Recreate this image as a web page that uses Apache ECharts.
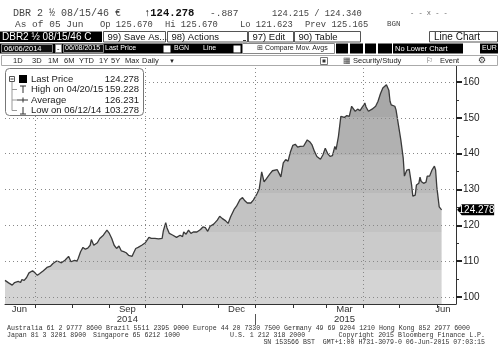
<!DOCTYPE html>
<html><head><meta charset="utf-8">
<script src="https://cdn.jsdelivr.net/npm/echarts@6/dist/echarts.min.js"></script>
<style>html,body{margin:0;padding:0;background:#fff}#c{width:500px;height:358px}</style>
</head><body><div id="c"></div>
<script>
// ---------- data ----------
const axisStart = '2014-06-06';
const axisEnd = '2015-06-17';
const priceDates = [
 '2014-06-06','2014-06-09','2014-06-12','2014-06-14','2014-06-15','2014-06-17','2014-06-19','2014-06-20','2014-06-22','2014-06-24','2014-06-26','2014-06-29',
 '2014-07-01','2014-07-03','2014-07-05','2014-07-08','2014-07-11','2014-07-14','2014-07-16','2014-07-19','2014-07-21','2014-07-23','2014-07-26','2014-07-29','2014-07-31',
 '2014-08-03','2014-08-05','2014-08-06','2014-08-08','2014-08-10','2014-08-12','2014-08-14','2014-08-16','2014-08-17','2014-08-19','2014-08-22','2014-08-24','2014-08-27','2014-08-30',
 '2014-09-01','2014-09-03','2014-09-05','2014-09-07','2014-09-09','2014-09-11','2014-09-13','2014-09-15','2014-09-17','2014-09-20','2014-09-21','2014-09-23','2014-09-25','2014-09-28',
 '2014-10-01','2014-10-04','2014-10-06','2014-10-09','2014-10-12','2014-10-15','2014-10-16','2014-10-18','2014-10-19','2014-10-21','2014-10-24','2014-10-27','2014-10-30',
 '2014-11-01','2014-11-02','2014-11-04','2014-11-06','2014-11-08','2014-11-10','2014-11-13','2014-11-16','2014-11-18','2014-11-20','2014-11-22','2014-11-24','2014-11-27','2014-11-30',
 '2014-12-02','2014-12-04','2014-12-07','2014-12-09','2014-12-11','2014-12-14','2014-12-16','2014-12-19','2014-12-21','2014-12-23','2014-12-25','2014-12-28','2014-12-30',
 '2015-01-01','2015-01-02','2015-01-04','2015-01-06','2015-01-08','2015-01-10','2015-01-13','2015-01-15','2015-01-19','2015-01-22','2015-01-24','2015-01-26','2015-01-28','2015-01-30',
 '2015-02-01','2015-02-03','2015-02-05','2015-02-07','2015-02-10','2015-02-13','2015-02-15','2015-02-17','2015-02-19','2015-02-21','2015-02-24','2015-02-26','2015-02-28',
 '2015-03-02','2015-03-04','2015-03-06','2015-03-08','2015-03-09','2015-03-11','2015-03-13','2015-03-14','2015-03-16','2015-03-18','2015-03-20','2015-03-22','2015-03-23','2015-03-25','2015-03-27','2015-03-29','2015-03-31',
 '2015-04-02','2015-04-03','2015-04-05','2015-04-08','2015-04-11','2015-04-13','2015-04-15','2015-04-17','2015-04-20','2015-04-22','2015-04-23','2015-04-24','2015-04-27','2015-04-28','2015-04-30',
 '2015-05-02','2015-05-04','2015-05-05','2015-05-07','2015-05-09','2015-05-11','2015-05-12','2015-05-14','2015-05-15','2015-05-17','2015-05-18','2015-05-19','2015-05-21','2015-05-23','2015-05-24','2015-05-26','2015-05-28','2015-05-30','2015-05-31',
 '2015-06-01','2015-06-03','2015-06-04','2015-06-05'
];
const prices = [
 104.6,103.9,103.28,104.0,103.7,104.3,104.0,104.8,104.6,105.4,106.7,107.3,
 106.7,106.0,106.5,107.3,108.2,108.6,109.3,110.0,109.8,109.5,110.2,111.3,109.8,
 110.2,110.0,110.7,112.6,113.8,113.3,113.6,114.4,116.0,114.4,115.1,116.3,117.2,118.6,
 117.7,116.3,114.4,113.5,114.2,112.8,112.6,112.3,111.6,111.3,112.1,113.5,113.8,114.4,
 115.1,116.6,116.3,116.3,116.2,116.3,118.4,120.7,119.3,117.7,117.2,116.6,117.2,
 116.8,118.1,117.5,118.6,117.7,118.1,118.1,118.8,119.5,119.3,118.3,119.7,120.3,121.4,
 122.5,121.9,121.2,120.5,122.3,124.4,125.3,127.2,127.7,126.8,126.2,126.2,127.0,
 128.1,128.7,130.2,134.9,132.1,133.0,134.4,135.2,135.5,133.5,137.4,138.3,137.9,140.5,
 142.3,142.6,141.8,142.0,142.1,143.8,143.3,142.4,140.6,139.2,138.4,139.6,141.5,
 140.0,139.2,139.4,142.0,141.1,144.8,150.4,150.8,150.1,150.6,150.4,153.2,153.4,151.8,152.4,152.0,153.0,
 154.1,153.0,151.8,152.4,153.2,154.6,156.7,158.3,159.228,157.7,154.6,153.6,153.2,152.2,148.0,
 143.8,138.7,133.7,135.4,135.6,131.2,128.1,128.4,131.2,131.7,133.4,132.2,131.7,132.0,133.7,133.7,135.4,136.5,135.4,
 130.7,125.1,124.9,124.278
];
const lastPrice = 124.278;
const monthLabels = {'2014-06-18':'Jun','2014-09-16':'Sep\n2014','2014-12-16':'Dec','2015-03-16':'Mar\n2015','2015-06-06':'Jun'};
const yMin = 100, yMax = 160, yStep = 10;
const fillBands = [107.5, 118.2, 128.9, 139.6, 150.3];
const fillColors = ['#d4d4d4','#cbcbcb','#c3c3c3','#bababa','#b1b1b1','#a8a8a8'];
const legendRows = [
  ['Last Price','124.278'],
  ['High on 04/20/15','159.228'],
  ['Average','126.231'],
  ['Low on 06/12/14','103.278']
];

// ---------- build ----------
function dayList(a, b) {
  const out = []; let t = Date.parse(a + 'T00:00:00Z'); const e = Date.parse(b + 'T00:00:00Z');
  while (t <= e) { out.push(new Date(t).toISOString().slice(0, 10)); t += 86400000; }
  return out;
}
const days = dayList(axisStart, axisEnd);
const seriesData = priceDates.map((d, i) => [d, prices[i]]);
const isMonthStart = (i, v) => v.slice(8) === '01';
const isQuarterStart = (i, v) => v.slice(8) === '01' && ['01','04','07','10'].includes(v.slice(5, 7));
const isYearStart = (i, v) => v.slice(5) === '01-01';

const pieces = [];
for (let i = 0; i <= fillBands.length; i++) {
  const p = { color: fillColors[i] };
  if (i > 0) p.gte = fillBands[i - 1];
  if (i < fillBands.length) p.lt = fillBands[i];
  pieces.push(p);
}

const MONO = '"Liberation Mono", "DejaVu Sans Mono", monospace';
const SANS = '"Liberation Sans", Arial, sans-serif';
const g = [];
function T(x, y, text, opt) {
  g.push({ type: 'text', x: x, y: y, silent: true, z: 100,
    style: Object.assign({ text: text, fill: '#333', font: '9.5px ' + MONO, verticalAlign: 'middle', align: 'left' }, opt || {}) });
}
function R(x, y, w, h, fill, stroke, r) {
  g.push({ type: 'rect', silent: true, z: 99, shape: { x: x, y: y, width: w, height: h, r: r || 0 },
    style: { fill: fill || 'none', stroke: stroke || 'none', lineWidth: 1 } });
}
function L(x1, y1, x2, y2, c, w) {
  g.push({ type: 'line', silent: true, z: 100, shape: { x1: x1, y1: y1, x2: x2, y2: y2 }, style: { stroke: c || '#333', lineWidth: w || 1 } });
}

// row 1-2 quote header
T(13, 13.5, 'DBR 2 \u00bd 08/15/46 \u20ac', { fill: '#444', font: '10px ' + MONO });
T(144, 13.5, '\u2191124.278', { font: 'bold 10.5px ' + MONO, fill: '#111' });
T(210, 13.5, '-.887', { fill: '#444' });
T(272, 13.5, '124.215 / 124.340', { fill: '#444', font: '8.8px ' + MONO });
T(410, 13.5, '- - x - -', { fill: '#666', font: '7px ' + MONO });
T(15, 24.5, 'As of 05 Jun', { fill: '#444' });
T(100, 24.5, 'Op 125.670', { fill: '#444', font: '8.8px ' + MONO });
T(165, 24.5, 'Hi 125.670', { fill: '#444', font: '8.8px ' + MONO });
T(240, 24.5, 'Lo 121.623', { fill: '#444', font: '8.8px ' + MONO });
T(305, 24.5, 'Prev 125.165', { fill: '#444', font: '8.8px ' + MONO });
T(387, 24.5, 'BGN', { fill: '#444', font: '7.5px ' + MONO });

// row 3 toolbar
R(0, 31.5, 102, 10.5, '#000');
T(2, 37, 'DBR2 \u00bd 08/15/46 C', { fill: '#fff', font: '10px ' + SANS });
[[103.5, 62, '99) Save As...'], [167.5, 80, '98) Actions'], [248.5, 45, '97) Edit'], [294.5, 66, '90) Table']].forEach(b => {
  R(b[0], 31.5, b[1], 10.5, '#fff', '#555');
  T(b[0] + 4, 37, b[2], { fill: '#111', font: '9.5px ' + SANS });
});
L(243, 40.5, 246, 40.5, '#333');
R(429.5, 31.5, 68, 10.5, '#fff', '#555');
T(434, 37, 'Line Chart', { fill: '#111', font: '10px ' + SANS });

// row 4 settings bar
R(0, 43.5, 242, 10, '#000');
R(1.5, 44.5, 51, 8, '#111', '#888');
T(4, 48.5, '06/06/2014', { fill: '#fff', font: '7.5px ' + SANS });
R(55.5, 44.5, 6, 8, '#fff', '#888');
T(57, 48.5, '-', { fill: '#000', font: '7.5px ' + SANS });
R(63.5, 44.5, 40, 8, '#111', '#888');
T(65, 48.5, '06/08/2015', { fill: '#fff', font: '7px ' + SANS });
T(105, 48.5, 'Last Price', { fill: '#fff', font: '7px ' + SANS });
R(163.5, 45.5, 7, 7, '#fff');
T(174, 48.5, 'BGN', { fill: '#fff', font: '7px ' + SANS });
T(203, 48.5, 'Line', { fill: '#fff', font: '7px ' + SANS });
R(233.5, 45.5, 7, 7, '#fff');
R(242.5, 43.5, 92, 10, '#fff', '#888');
T(257, 48.5, '\u229e Compare Mov. Avgs', { fill: '#222', font: '7px ' + SANS });
R(336, 43.5, 12, 10, '#000'); R(350, 43.5, 13, 10, '#000'); R(365, 43.5, 11, 10, '#000'); R(378, 43.5, 14, 10, '#000');
R(393, 43.5, 70, 10, '#000');
T(395, 48.5, 'No Lower Chart', { fill: '#fff', font: '7.5px ' + SANS });
R(480, 43.5, 18, 10, '#000');
T(482, 48.5, 'EUR', { fill: '#fff', font: '7px ' + SANS });

// row 5 periods
R(1.5, 55.5, 496, 10, '#fff', '#aaa');
[[13, '1D'], [32, '3D'], [48, '1M'], [64, '6M'], [79, 'YTD'], [99, '1Y'], [111, '5Y'], [125, 'Max'], [142, 'Daily']].forEach(p =>
  T(p[0], 61, p[1], { fill: '#222', font: '7.5px ' + SANS }));
T(169, 61, '\u25bc', { fill: '#222', font: '6px ' + SANS });
R(320.5, 57.5, 7, 7, '#fff', '#777');
R(322.5, 59.5, 3, 3, '#333');
T(343, 61, '\u25a6', { fill: '#444', font: '8px ' + SANS });
T(353, 61, 'Security/Study', { fill: '#222', font: '7.5px ' + SANS });
T(426, 61, '\u2690', { fill: '#444', font: '8px "DejaVu Sans"' });
T(440, 61, 'Event', { fill: '#222', font: '7.5px ' + SANS });
T(478, 61, '\u2699', { fill: '#333', font: '9px "DejaVu Sans"' });

// legend box
R(5.5, 68.5, 138, 47, '#fff', '#777', 4);
R(9.5, 76.5, 5, 5, '#fff', '#555');
L(10.5, 79, 13.5, 79, '#333');
R(19, 75, 8, 8, '#000');
L(12, 82, 12, 110.5, '#999');
L(12, 89.5, 17, 89.5, '#999'); L(12, 100, 17, 100, '#999'); L(12, 110.5, 17, 110.5, '#999');
L(20, 86, 26, 86, '#333'); L(23, 86, 23, 93, '#333');
L(17, 100, 28, 100, '#333'); L(23, 97.5, 23, 102.5, '#333');
L(23, 107, 23, 114, '#333'); L(20, 114, 26, 114, '#333');
legendRows.forEach((r, i) => {
  const y = 79 + i * 10.5;
  T(31, y, r[0], { fill: '#222', font: '9.5px ' + SANS });
  T(139, y, r[1], { fill: '#222', font: '9.5px ' + SANS, align: 'right' });
});

// footer
const FT = '6.6px ' + MONO;
T(7, 328.5, 'Australia 61 2 9777 8600 Brazil 5511 2395 9000 Europe 44 20 7330 7500 Germany 49 69 9204 1210 Hong Kong 852 2977 6000', { fill: '#333', font: FT });
T(7, 335.5, 'Japan 81 3 3201 8900', { fill: '#333', font: FT });
T(93, 335.5, 'Singapore 65 6212 1000', { fill: '#333', font: FT });
T(230, 335.5, 'U.S. 1 212 318 2000', { fill: '#333', font: FT });
T(485, 335.5, 'Copyright 2015 Bloomberg Finance L.P.', { fill: '#333', font: FT, align: 'right' });
T(485, 342.5, 'SN 153566 BST  GMT+1:00 H731-3079-0 06-Jun-2015 07:03:15', { fill: '#333', font: FT, align: 'right' });

const chart = echarts.init(document.getElementById('c'), null, { renderer: 'canvas' });
chart.setOption({
  animation: false,
  backgroundColor: '#fff',
  grid: [
    { left: 5, right: 44, top: 64, bottom: 54 },
    { left: 5, right: 44, top: 82, bottom: 61 }
  ],
  xAxis: [
    { type: 'category', gridIndex: 0, data: days, boundaryGap: false, z: 5,
      axisLine: { show: true, lineStyle: { color: '#333', width: 1 } },
      axisTick: { show: true, interval: isMonthStart, length: 4, lineStyle: { color: '#333' } },
      axisLabel: { show: true, interval: (i, v) => v in monthLabels, formatter: v => monthLabels[v] || '',
        color: '#333', fontSize: 9.5, fontFamily: SANS, lineHeight: 9.5, margin: 1 },
      splitLine: { show: true, interval: isQuarterStart, lineStyle: { color: '#888', type: [1, 3], width: 1 } } },
    { type: 'category', gridIndex: 0, data: days, boundaryGap: false, position: 'bottom', offset: 10,
      axisLine: { show: false },
      axisTick: { show: true, interval: isYearStart, length: 11, lineStyle: { color: '#555' } },
      axisLabel: { show: false }, splitLine: { show: false } },
    { type: 'category', gridIndex: 1, data: days, boundaryGap: false, show: false }
  ],
  yAxis: [
    { type: 'value', gridIndex: 0, min: 98, max: 165, position: 'right', z: 5,
      axisLine: { show: true, lineStyle: { color: '#333' } }, axisTick: { show: false },
      axisLabel: { show: false }, splitLine: { show: false } },
    { type: 'value', gridIndex: 1, min: yMin, max: yMax, interval: yStep, position: 'right', z: 5,
      axisLine: { show: false },
      axisTick: { show: true, length: 6, lineStyle: { color: '#222', width: 2 } },
      minorTick: { show: true, splitNumber: 2, length: 3, lineStyle: { color: '#333' } },
      axisLabel: { color: '#222', fontSize: 10, fontFamily: SANS, margin: 7 },
      splitLine: { show: true, lineStyle: { color: '#888', type: [1, 3], width: 1 } } }
  ],
  visualMap: { show: false, type: 'piecewise', seriesIndex: 0, dimension: 1, pieces: pieces },
  series: [{
    type: 'line', xAxisIndex: 0, yAxisIndex: 0, data: seriesData, showSymbol: false, symbol: 'none', z: 2,
    lineStyle: { color: '#3a3a3a', width: 1.3 },
    areaStyle: { opacity: 1 },
    markPoint: {
      silent: true, symbol: 'path://M0,5 L5,0 L40,0 L40,10 L5,10 Z', symbolSize: [37, 11], symbolOffset: [34, 0],
      itemStyle: { color: '#000' },
      label: { show: true, position: 'inside', color: '#fff', fontSize: 10, fontFamily: SANS, offset: [1, 0],
        formatter: p => p.value.toFixed(3) },
      data: [{ coord: [priceDates[priceDates.length - 1], lastPrice], value: lastPrice }]
    }
  }],
  graphic: g
});
</script></body></html>
